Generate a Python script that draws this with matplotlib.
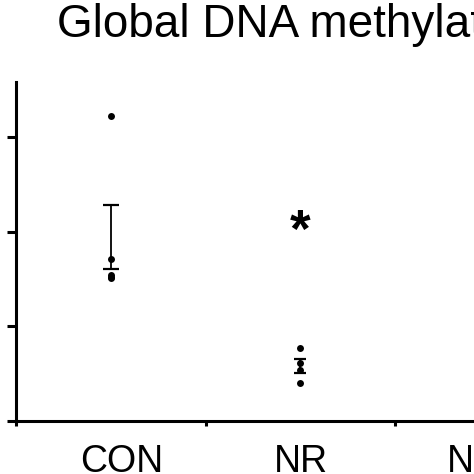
import matplotlib
matplotlib.use("Agg")
import matplotlib.pyplot as plt
import matplotlib.transforms as mtransforms
import numpy as np

plt.rcParams['font.family'] = ['Liberation Sans', 'DejaVu Sans']

# ---- data (y in units of one tick interval) ----
categories = ["CON", "NR", "NMN"]
con_points = [3.22, 1.71, 1.54, 1.52, 1.51]
nr_points = [0.77, 0.61, 0.54, 0.40]
group_means = [1.94, 0.58]
group_sems = [0.34, 0.074]
y_ticks = [0, 1, 2, 3]
title_text = "Global DNA methylation"
star_group = 1
star_value = 2.10

W = H = 474
fig = plt.figure(figsize=(W / 100, H / 100), dpi=100)
fig.patch.set_facecolor("white")

# axes deliberately extends past the right edge (picture is a crop)
left_px, bottom_px, right_px, top_px = 16.25, 421, 16.25 + 3 * 189.5, 82
ax = fig.add_axes([left_px / W, (H - bottom_px) / H,
                   (right_px - left_px) / W, (bottom_px - top_px) / H])
unit_px = 94.7
ax.set_ylim(0, (bottom_px - top_px) / unit_px)
ax.set_xlim(-0.5, len(categories) - 0.5)

for s in ["top", "right"]:
    ax.spines[s].set_visible(False)
for s in ["left", "bottom"]:
    ax.spines[s].set_linewidth(2.2)

# points
for gi, pts in enumerate([con_points, nr_points]):
    ax.plot(np.full(len(pts), gi), pts, "o", color="black",
            markersize=5.0, markeredgewidth=0, zorder=3)

# error bars (mean +- SEM, no mean line)
capsizes = [6.0, 4.0]
for gi, (m, s) in enumerate(zip(group_means, group_sems)):
    ax.errorbar([gi], [m], yerr=[s], fmt="none", ecolor="black",
                elinewidth=1.3, capsize=capsizes[gi], capthick=1.6, zorder=2)

# significance star
ax.text(star_group, star_value, "*", ha="center", va="center",
        fontsize=38, fontweight="bold", color="black",
        transform=ax.transData + mtransforms.ScaledTranslation(0, -11 / 100, fig.dpi_scale_trans))

# ticks
ax.set_yticks(y_ticks)
ax.set_yticklabels([""] * len(y_ticks))
ax.tick_params(axis="y", direction="out", length=6.5, width=2.2)
ax.set_xticks(np.arange(len(categories) + 1) - 0.5)
ax.set_xticklabels([])
ax.tick_params(axis="x", which="major", direction="out", length=3.6, width=2.2)
ax.set_xticks(np.arange(len(categories)), minor=True)
ax.set_xticklabels(categories, minor=True, fontsize=27)
ax.tick_params(axis="x", which="minor", length=0, pad=16.5)

# the CON label sits a little right of its group in the reference
lab0 = ax.xaxis.get_minorticklabels()[0]
lab0.set_transform(lab0.get_transform() +
                   mtransforms.ScaledTranslation(11 / 100, 0, fig.dpi_scale_trans))

fig.text(57 / W, 1 - 36.7 / H, title_text, fontsize=33, ha="left",
         va="baseline", color="black")

fig.savefig("out.png", dpi=100, facecolor="white")
